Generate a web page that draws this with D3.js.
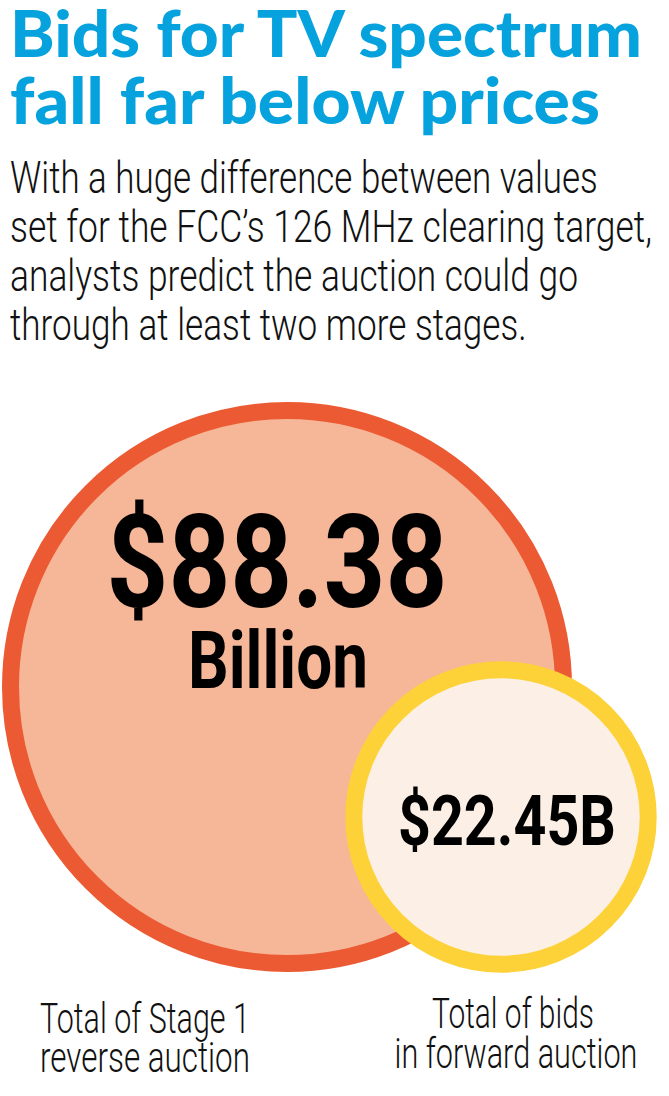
<!DOCTYPE html>
<html lang="en">
    <head>
        <meta charset="utf-8">
        <title>Bids for TV spectrum</title>
        <script src="https://d3js.org/d3.v7.min.js"></script>
        <style>
            body { margin: 0; background: #fff; }
        </style>
    </head>
    <body>
        <div id="dataviz"></div>
        <script>
            // chart data
            var titleLines = ["Bids for TV spectrum", "fall far below prices"];
            var subtitleLines = [
                "With a huge difference between values",
                "set for the FCC\u2019s 126 MHz clearing target,",
                "analysts predict the auction could go",
                "through at least two more stages."
            ];
            var amounts = [88.38, 22.45];           // billions of dollars
            var amountLabels = ["$88.38", "$22.45B"];
            var unitLabels = ["Billion", ""];
            var captions = [
                ["Total of Stage 1", "reverse auction"],
                ["Total of bids", "in forward auction"]
            ];

            var width = 669, height = 1096;

            var svg = d3.select("#dataviz")
                        .append("svg")
                        .attr("width", width)
                        .attr("height", height);

            // squeeze a text horizontally to a given width (the fonts here are wider than the original)
            function fit(sel, xs, ys, ws, anchor) {
                sel.each(function(d, i) {
                    var t = d3.select(this).attr("x", 0).attr("y", 0);
                    var len = this.getComputedTextLength();
                    var sx = ws[i] / len;
                    var x0 = anchor == "middle" ? xs[i] - ws[i] / 2 : xs[i];
                    t.attr("transform", "translate(" + x0 + "," + ys[i] + ") scale(" + sx + ",1)");
                });
            }

            // title
            var title = svg.selectAll(".title")
                .data(titleLines).enter()
                .append("text")
                .attr("class", "title")
                .style("font-family", "Lato, 'Open Sans', sans-serif")
                .style("font-weight", 900)
                .style("font-size", "64px")
                .style("fill", "#06a2dd")
                .text(function(d) { return d; });
            fit(title, [10, 10], [57, 124], [632, 590], "start");

            // subtitle
            var sub = svg.selectAll(".sub")
                .data(subtitleLines).enter()
                .append("text")
                .attr("class", "sub")
                .style("font-family", "Roboto, sans-serif")
                .style("font-weight", 300)
                .style("font-size", "45px")
                .style("fill", "#111")
                .text(function(d) { return d; });
            fit(sub, [10, 10, 10, 10], [193, 242, 291, 340], [588, 642, 568, 517], "start");

            // bubble sizes
            var r = d3.scalePow()
                      .exponent(0.46)
                      .domain([0, d3.max(amounts)])
                      .range([0, 276.5]);

            var centers = [[287, 687], [501, 817]];
            var strokes = ["#ec5a33", "#fdd239"];
            var fills = ["#f6b698", "#fcf0e6"];

            svg.selectAll(".bubble")
                .data(amounts).enter()
                .append("circle")
                .attr("class", "bubble")
                .attr("cx", function(d, i) { return centers[i][0]; })
                .attr("cy", function(d, i) { return centers[i][1]; })
                .attr("r", function(d) { return r(d); })
                .style("fill", function(d, i) { return fills[i]; })
                .style("stroke", function(d, i) { return strokes[i]; })
                .style("stroke-width", 17);

            // amounts inside bubbles
            var amountSizes = [130, 70];
            var amount = svg.selectAll(".amount")
                .data(amountLabels).enter()
                .append("text")
                .attr("class", "amount")
                .style("font-family", "Roboto, sans-serif")
                .style("font-weight", 700)
                .style("font-size", function(d, i) { return amountSizes[i] + "px"; })
                .style("fill", "#000")
                .text(function(d) { return d; });
            fit(amount, [277, 507], [607, 845], [341, 218], "middle");

            var unit = svg.selectAll(".unit")
                .data(unitLabels.filter(function(d) { return d; })).enter()
                .append("text")
                .attr("class", "unit")
                .style("font-family", "Roboto, sans-serif")
                .style("font-weight", 700)
                .style("font-size", "80px")
                .style("fill", "#000")
                .text(function(d) { return d; });
            fit(unit, [278], [688], [180], "middle");

            // captions under bubbles
            var capX = [[40, 40], [513, 516]];
            var capAnchor = ["start", "middle"];
            var capWidths = [[210, 210], [162, 243]];
            var capY = [[1033, 1072], [1028, 1068]];
            captions.forEach(function(lines, k) {
                var cap = svg.selectAll(".cap" + k)
                    .data(lines).enter()
                    .append("text")
                    .attr("class", "cap" + k)
                    .style("font-family", "Roboto, sans-serif")
                    .style("font-weight", 300)
                    .style("font-size", "42px")
                    .style("fill", "#111")
                    .text(function(d) { return d; });
                fit(cap, capX[k], capY[k], capWidths[k], capAnchor[k]);
            });
        </script>
    </body>
</html>
